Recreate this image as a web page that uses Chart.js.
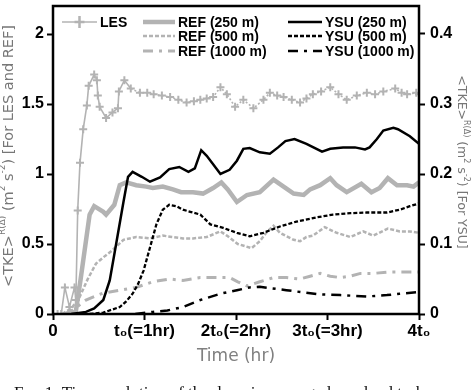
<!DOCTYPE html>
<html><head><meta charset="utf-8">
<script src="https://cdn.jsdelivr.net/npm/chart.js@4/dist/chart.umd.min.js"></script>
<style>html,body{margin:0;padding:0;background:#fff;overflow:hidden}#wrap{position:relative;width:474px;height:390px}</style>
</head><body><div id="wrap"><canvas id="c" width="474" height="390"></canvas></div>
<script>
// ---- data (time in hr) ----
const xTickValues = [0, 1, 2, 3, 4];
const xTickLabels = ['0', 't\u2080(=1hr)', '2t\u2080(=2hr)', '3t\u2080(=3hr)', '4t\u2080'];
const leftTicks = [0, 0.5, 1, 1.5, 2];
const leftTickLabels = ['0', '0.5', '1', '1.5', '2'];
const rightTicks = [0, 0.1, 0.2, 0.3, 0.4];
const rightTickLabels = ['0', '0.1', '0.2', '0.3', '0.4'];

const lesT = [0.05,0.09,0.13,0.18,0.235,0.25,0.27,0.295,0.33,0.37,0.39,0.45,0.48,0.49,0.51,0.58,0.65,0.71,0.72,0.78,0.85,0.95,1.03,1.10,1.19,1.28,1.37,1.46,1.54,1.61,1.68,1.75,1.83,1.90,1.99,2.08,2.19,2.30,2.37,2.45,2.52,2.61,2.70,2.77,2.84,2.93,3.03,3.12,3.21,3.32,3.43,3.52,3.61,3.74,3.81,3.87,3.97,4.0];
const lesV = [0,0,0.19,0.05,0.19,0.1,0.74,1.08,1.32,1.49,1.63,1.71,1.67,1.56,1.48,1.40,1.44,1.47,1.59,1.67,1.61,1.58,1.58,1.57,1.56,1.55,1.53,1.51,1.52,1.53,1.54,1.55,1.62,1.57,1.48,1.53,1.47,1.53,1.58,1.56,1.55,1.53,1.51,1.54,1.57,1.59,1.62,1.57,1.53,1.56,1.58,1.57,1.59,1.61,1.58,1.57,1.58,1.57];

const ref250T = [0.20,0.25,0.30,0.40,0.45,0.55,0.58,0.67,0.73,0.80,0.91,1.02,1.09,1.20,1.31,1.40,1.53,1.64,1.75,1.84,1.91,2.01,2.12,2.26,2.41,2.52,2.63,2.74,2.81,2.92,3.03,3.10,3.21,3.37,3.48,3.57,3.66,3.76,3.87,3.94,4.0];
const ref250V = [0,0.02,0.24,0.71,0.77,0.73,0.71,0.78,0.92,0.94,0.92,0.91,0.90,0.91,0.89,0.87,0.87,0.86,0.90,0.94,0.89,0.80,0.85,0.87,0.96,0.91,0.86,0.85,0.89,0.92,0.97,0.92,0.87,0.93,0.87,0.90,0.97,0.92,0.92,0.91,0.94];

const ref500T = [0.10,0.20,0.29,0.38,0.47,0.56,0.64,0.77,0.91,1.06,1.20,1.30,1.42,1.53,1.68,1.83,1.90,2.02,2.17,2.26,2.33,2.41,2.48,2.63,2.70,2.77,2.84,2.97,3.10,3.25,3.39,3.50,3.66,3.79,3.90,4.0];
const ref500V = [0,0.04,0.12,0.25,0.36,0.41,0.45,0.53,0.55,0.54,0.56,0.55,0.54,0.54,0.55,0.59,0.56,0.50,0.47,0.52,0.58,0.63,0.58,0.53,0.52,0.55,0.56,0.62,0.58,0.55,0.59,0.56,0.61,0.59,0.59,0.58];

const ref1000T = [0.12,0.22,0.36,0.55,0.73,0.91,1.09,1.27,1.42,1.61,1.79,1.93,2.02,2.12,2.26,2.41,2.55,2.70,2.81,2.92,3.03,3.14,3.25,3.36,3.50,3.68,3.83,3.96,4.0];
const ref1000V = [0,0.03,0.10,0.15,0.17,0.19,0.23,0.25,0.24,0.26,0.26,0.26,0.23,0.20,0.23,0.26,0.26,0.25,0.27,0.29,0.27,0.26,0.27,0.29,0.29,0.30,0.30,0.30,0.30];

const ysu250T = [0.20,0.36,0.45,0.55,0.62,0.69,0.77,0.82,0.87,0.97,1.06,1.17,1.27,1.38,1.48,1.55,1.62,1.68,1.75,1.83,1.93,2.01,2.08,2.15,2.26,2.37,2.46,2.54,2.64,2.77,2.94,3.03,3.17,3.30,3.41,3.46,3.54,3.61,3.72,3.77,3.90,4.0];
const ysu250V = [0,0.003,0.008,0.02,0.048,0.10,0.16,0.196,0.203,0.196,0.189,0.195,0.207,0.210,0.203,0.208,0.234,0.226,0.214,0.200,0.206,0.219,0.236,0.237,0.231,0.229,0.238,0.247,0.250,0.243,0.232,0.236,0.238,0.238,0.235,0.238,0.250,0.262,0.266,0.264,0.254,0.243];

const ysu500T = [0.40,0.55,0.73,0.80,0.87,0.93,0.99,1.06,1.13,1.20,1.27,1.35,1.42,1.50,1.61,1.72,1.86,2.01,2.15,2.30,2.48,2.66,2.81,2.88,3.06,3.25,3.43,3.65,3.79,3.90,4.0];
const ysu500V = [0,0.002,0.01,0.018,0.029,0.043,0.062,0.095,0.128,0.149,0.156,0.154,0.149,0.146,0.142,0.128,0.123,0.116,0.111,0.116,0.125,0.132,0.136,0.138,0.142,0.144,0.145,0.145,0.149,0.154,0.158];

const ysu1000T = [0.90,1.09,1.25,1.42,1.61,1.83,2.01,2.15,2.26,2.37,2.55,2.73,2.92,3.14,3.43,3.65,3.79,3.97,4.0];
const ysu1000V = [0,0.003,0.005,0.01,0.02,0.029,0.034,0.038,0.039,0.037,0.034,0.031,0.028,0.027,0.025,0.027,0.029,0.031,0.031];

const labels = ['LES','REF (250 m)','REF (500 m)','REF (1000 m)','YSU (250 m)','YSU (500 m)','YSU (1000 m)'];
const captionText = ' 1. Time evolution of the domain-averaged resolved turbu';

// ---- build ----
const pts = (t, v) => t.map((x, i) => ({x: x, y: v[i]}));
const GRAY = '#b3b3b3';
const TICKFONT = "'Liberation Sans', Arial, sans-serif";
const TITLEFONT = "'DejaVu Sans', sans-serif";

const datasets = [
  {label: labels[4], data: pts(ysu250T, ysu250V), yAxisID: 'y2', borderColor: '#000', borderWidth: 2.5, order: 0},
  {label: labels[5], data: pts(ysu500T, ysu500V), yAxisID: 'y2', borderColor: '#000', borderWidth: 2.3, borderDash: [4, 2], order: 1},
  {label: labels[6], data: pts(ysu1000T, ysu1000V), yAxisID: 'y2', borderColor: '#000', borderWidth: 2.5, borderDash: [10, 6, 3, 6], order: 2},
  {label: labels[0], data: pts(lesT, lesV), yAxisID: 'y', borderColor: GRAY, borderWidth: 1.6,
   pointStyle: 'cross', pointRadius: 4, pointBorderWidth: 2, pointBorderColor: GRAY,
   segment: {borderDash: c => c.p0.parsed.x > 0.8 ? [2, 2] : undefined}, order: 3},
  {label: labels[1], data: pts(ref250T, ref250V), yAxisID: 'y', borderColor: GRAY, borderWidth: 4.5, order: 4},
  {label: labels[2], data: pts(ref500T, ref500V), yAxisID: 'y', borderColor: GRAY, borderWidth: 2.5, borderDash: [4, 2], order: 5},
  {label: labels[3], data: pts(ref1000T, ref1000V), yAxisID: 'y', borderColor: GRAY, borderWidth: 3, borderDash: [10, 6, 3, 6], order: 6}
];
datasets.forEach(d => { d.fill = false; d.tension = 0; if (d.pointRadius === undefined) d.pointRadius = 0; });

function richText(ctx, segs, cx, cy, rot, size, color, family) {
  ctx.save(); ctx.translate(cx, cy); ctx.rotate(rot);
  const fN = size + 'px ' + family, fS = Math.round(size * 0.62) + 'px ' + family;
  let w = 0;
  segs.forEach(s => { ctx.font = s.sup ? fS : fN; s.w = ctx.measureText(s.t).width; w += s.w; });
  let x = -w / 2; ctx.fillStyle = color; ctx.textBaseline = 'middle'; ctx.textAlign = 'left';
  segs.forEach(s => { ctx.font = s.sup ? fS : fN; ctx.fillText(s.t, x, s.sup ? -size * 0.42 : 0); x += s.w; });
  ctx.restore();
}
function titleSegs(tail) {
  return [{t: '<TKE>'}, {t: 'R(\u0394)', sup: 1}, {t: ' (m'}, {t: '2', sup: 1}, {t: ' s'}, {t: '-2', sup: 1}, {t: ') ' + tail}];
}

const legendLayout = [
  {i: 3, x1: 62, x2: 97, tx: 100, y: 22},
  {i: 4, x1: 143, x2: 175, tx: 178, y: 22},
  {i: 5, x1: 143, x2: 175, tx: 178, y: 36},
  {i: 6, x1: 143, x2: 175, tx: 178, y: 51},
  {i: 0, x1: 288, x2: 322, tx: 325, y: 22},
  {i: 1, x1: 288, x2: 322, tx: 325, y: 36},
  {i: 2, x1: 288, x2: 322, tx: 325, y: 51}
];

const decor = {
  id: 'decor',
  afterDraw(chart) {
    const ctx = chart.ctx, a = chart.chartArea;
    ctx.save();
    ctx.strokeStyle = '#000'; ctx.lineWidth = 2.5;
    ctx.strokeRect(a.left, a.top, a.right - a.left, a.bottom - a.top);
    legendLayout.forEach(L => {
      const d = chart.data.datasets[L.i];
      ctx.save();
      ctx.strokeStyle = d.borderColor; ctx.lineWidth = d.borderWidth;
      ctx.setLineDash(d.borderDash || []);
      ctx.beginPath(); ctx.moveTo(L.x1, L.y); ctx.lineTo(L.x2, L.y); ctx.stroke();
      if (d.pointStyle === 'cross') {
        ctx.setLineDash([]); ctx.lineWidth = 2.5;
        const cx = (L.x1 + L.x2) / 2;
        ctx.beginPath(); ctx.moveTo(cx - 5, L.y); ctx.lineTo(cx + 5, L.y);
        ctx.moveTo(cx, L.y - 6); ctx.lineTo(cx, L.y + 6); ctx.stroke();
      }
      ctx.fillStyle = '#000'; ctx.font = 'bold 14px ' + TICKFONT;
      ctx.textBaseline = 'middle'; ctx.textAlign = 'left';
      ctx.fillText(d.label, L.tx, L.y + 1);
      ctx.restore();
    });
    richText(ctx, titleSegs('[For LES and REF]'), 9, 156, -Math.PI / 2, 14.5, '#777', TITLEFONT);
    richText(ctx, titleSegs('[For YSU]'), 461, 162, Math.PI / 2, 12.5, '#777', TITLEFONT);
    ctx.fillStyle = '#808080'; ctx.font = '17px ' + TITLEFONT; ctx.textAlign = 'center'; ctx.textBaseline = 'middle';
    ctx.fillText('Time (hr)', 236, 357);
    ctx.fillStyle = '#111'; ctx.textAlign = 'left'; ctx.textBaseline = 'alphabetic';
    ctx.font = "17px 'Liberation Serif', serif";
    ctx.fillText('F', 14, 398);
    let x = 14 + ctx.measureText('F').width;
    ctx.font = "13px 'Liberation Serif', serif";
    ctx.fillText('IG.', x, 398);
    x += ctx.measureText('IG.').width;
    ctx.font = "17px 'Liberation Serif', serif";
    ctx.fillText(captionText, x, 398);
    ctx.restore();
  }
};

function noPad(s) { s.paddingTop = 0; s.paddingBottom = 0; s.paddingLeft = 0; s.paddingRight = 0; }
const tickFont = {family: TICKFONT, size: 16, weight: 'bold'};
const tickGrid = {display: true, drawOnChartArea: false, tickLength: 6, tickWidth: 2, color: '#000'};
new Chart(document.getElementById('c'), {
  type: 'line',
  data: {datasets: datasets},
  options: {
    responsive: false, animation: false, devicePixelRatio: 1,
    layout: {padding: {top: 2, left: 0, right: 0, bottom: 0}},
    plugins: {legend: {display: false}, tooltip: {enabled: false}},
    scales: {
      x: {type: 'linear', min: 0, max: 4,
        afterFit(s) { s.height = 76; noPad(s); },
        afterBuildTicks(s) { s.ticks = xTickValues.map(v => ({value: v})); },
        ticks: {callback: v => xTickLabels[xTickValues.indexOf(v)], font: {family: TICKFONT, size: 17, weight: 'bold'}, color: '#000', padding: 1, maxRotation: 0, autoSkip: false},
        grid: tickGrid, border: {display: false}},
      y: {position: 'left', min: 0, max: 2.2,
        afterFit(s) { s.width = 53; noPad(s); },
        afterBuildTicks(s) { s.ticks = leftTicks.map(v => ({value: v})); },
        ticks: {callback: v => leftTickLabels[leftTicks.indexOf(v)], font: tickFont, color: '#000', padding: 3},
        grid: tickGrid, border: {display: false}},
      y2: {position: 'right', min: 0, max: 0.44,
        afterFit(s) { s.width = 55; noPad(s); },
        afterBuildTicks(s) { s.ticks = rightTicks.map(v => ({value: v})); },
        ticks: {callback: v => rightTickLabels[rightTicks.indexOf(v)], font: tickFont, color: '#000', padding: 5},
        grid: tickGrid, border: {display: false}}
    }
  },
  plugins: [decor]
});
</script></body></html>
